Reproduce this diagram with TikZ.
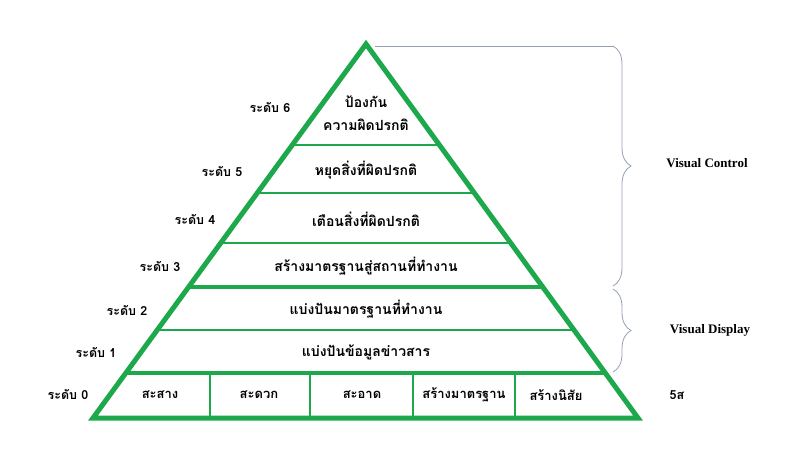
\documentclass[tikz,border=0pt]{standalone}
\usepackage{fontspec}
\setmainfont{Liberation Serif}
\newfontfamily\thaifont[Script=Thai]{Loma}
\usetikzlibrary{calc,decorations.pathreplacing}
\definecolor{pyrgreen}{RGB}{30,168,76}
\definecolor{bracegray}{RGB}{150,160,180}

\begin{document}
\begin{tikzpicture}[x=1pt,y=-1pt,
  pyredge/.style={pyrgreen,line width=5pt,line join=miter},
  band/.style={pyrgreen,line width=2pt},
  bandthick/.style={pyrgreen,line width=4pt},
  cell/.style={font=\thaifont\bfseries\fontsize{14}{23}\selectfont,align=center},
  smallcell/.style={font=\thaifont\bfseries\fontsize{13}{15}\selectfont},
  lvl/.style={font=\thaifont\bfseries\fontsize{12.5}{14}\selectfont},
  sidelabel/.style={font=\bfseries\fontsize{13}{15}\selectfont},
  curly/.style={bracegray,line width=0.8pt,decorate,decoration={brace,amplitude=18pt}}]

  \useasboundingbox (0,0) rectangle (800,457);

  % Corners of the pyramid
  \coordinate (top) at (366,44);
  \coordinate (bl) at (93,418);
  \coordinate (br) at (638,418);

  % Draw the bands
  \foreach \t/\s [count=\i] in {0.270/band,0.398/band,0.532/band,0.650/bandthick,0.765/band,0.880/bandthick} {
    \draw[\s] ($(top)!\t!(bl)$) coordinate (l\i) -- ($(top)!\t!(br)$) coordinate (r\i);
  }

  % Cells of level 0
  \foreach \x in {210,310,413,515} {
    \draw[band] (\x,373) -- (\x,418);
  }

  % Outline of the pyramid
  \draw[pyredge] (top) -- (br) -- (bl) -- cycle;

  % Texts inside the bands
  \node[cell] (b6) at (366,113) {ป้องกัน\\ความผิดปรกติ};
  \node[cell] (b5) at (366,170) {หยุดสิ่งที่ผิดปรกติ};
  \node[cell] (b4) at (366,219) {เตือนสิ่งที่ผิดปรกติ};
  \node[cell] (b3) at (366,266) {สร้างมาตรฐานสู่สถานที่ทำงาน};
  \node[cell] (b2) at (366,309) {แบ่งปันมาตรฐานที่ทำงาน};
  \node[cell] (b1) at (366,352) {แบ่งปันข้อมูลข่าวสาร};

  \node[smallcell] (c1) at (160,395) {สะสาง};
  \node[smallcell] (c2) at (259,395) {สะดวก};
  \node[smallcell] (c3) at (362,395) {สะอาด};
  \node[smallcell] (c4) at (464,395) {สร้างมาตรฐาน};
  \node[smallcell] (c5) at (556,395) {สร้างนิสัย};

  % Level labels on the left
  \foreach \y/\x/\n in {107/270/6,171/222/5,219/195/4,266/160/3,310/127/2,352/96/1,394/68/0} {
    \node[lvl] (lv\n) at (\x,\y) {ระดับ \n};
  }

  % Braces on the right
  \coordinate (apexline) at (375,46);
  \coordinate (vc1) at (613,46);
  \coordinate (vc2) at (613,286);
  \coordinate (vd1) at (613,289);
  \coordinate (vd2) at (613,372);
  \draw[bracegray,line width=0.8pt] (apexline) -- (vc1);
  \draw[curly] (vc1) -- (vc2);
  \draw[curly] (vd1) -- (vd2);

  \node[sidelabel] (vc) at (707,163) {Visual Control};
  \node[sidelabel] (vd) at (710,330) {Visual Display};
  \node[lvl] (five) at (677,395) {5ส};

\end{tikzpicture}
\end{document}
